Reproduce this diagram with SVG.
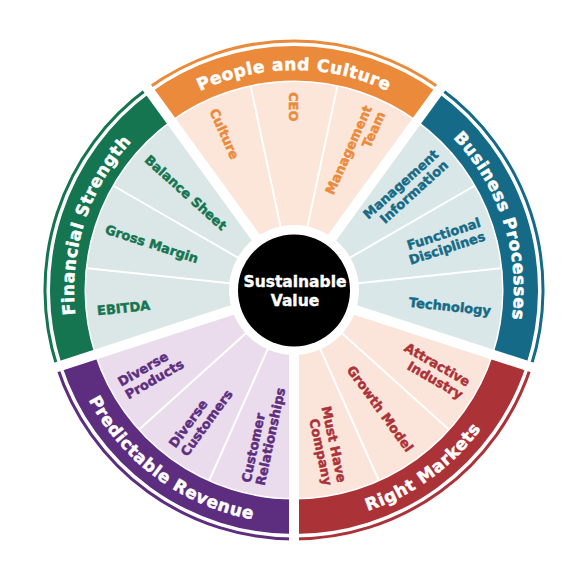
<svg xmlns="http://www.w3.org/2000/svg" xmlns:xlink="http://www.w3.org/1999/xlink" width="588" height="581" viewBox="0 0 588 581">
<style>
.band-label{font-family:"DejaVu Sans","Liberation Sans",sans-serif;font-weight:bold;font-size:17px;fill:#ffffff;stroke:#ffffff;stroke-width:0.5px;letter-spacing:0.6px}
.sub{font-family:"DejaVu Sans","Liberation Sans",sans-serif;font-weight:bold;font-size:13px;stroke-width:0.45px}
.div{stroke:#ffffff;stroke-width:2}
.gap{stroke:#ffffff;stroke-width:10}
.center-label{font-family:"DejaVu Sans","Liberation Sans",sans-serif;font-weight:bold;font-size:15.5px;fill:#ffffff;stroke:#ffffff;stroke-width:0.4px}
</style>
<defs>
  <path id="thin" d="M201.45,-146.36 A249 249 0 0 1 201.45,146.36" fill="none" stroke-width="3"/>
  <path id="band" d="M183.45,-133.28 A226.75 226.75 0 0 1 183.45,133.28" fill="none" stroke-width="34.5"/>
  <path id="light" d="M0,0 L168.28,-122.26 A208 208 0 0 1 168.28,122.26 Z"/>
  <path id="cw" d="M177.98,-129.31 A220 220 0 0 1 177.98,129.31" fill="none"/>
  <path id="ccw" d="M188.50,136.96 A233 233 0 0 0 188.50,-136.96" fill="none"/>
</defs>
<rect width="588" height="581" fill="#ffffff"/>

<g id="people-and-culture" transform="translate(294,290) rotate(270)">
  <use href="#light" fill="#FCE5D9"/>
  <use href="#band" stroke="#EB8A3A"/>
  <use href="#thin" stroke="#EB8A3A"/>
  <line class="div" x1="0" y1="0" x2="203.46" y2="-43.25"/>
  <line class="div" x1="0" y1="0" x2="203.46" y2="43.25"/>
  <text class="band-label"><textPath href="#cw" startOffset="50%" text-anchor="middle">People and Culture</textPath></text>
  <g class="sub" fill="#EB8A3A" stroke="#EB8A3A">
    <text transform="rotate(-24) translate(198,0) rotate(180)" y="4.7">Culture</text>
    <text transform="rotate(0) translate(198,0) rotate(180)" y="4.7">CEO</text>
    <text transform="rotate(24) translate(198,0)" text-anchor="end"><tspan x="0" y="-2.5">Management</tspan><tspan x="0" y="12">Team</tspan></text>
  </g>
</g>

<g id="business-processes" transform="translate(294,290) rotate(342)">
  <use href="#light" fill="#DAE7E8"/>
  <use href="#band" stroke="#156B87"/>
  <use href="#thin" stroke="#156B87"/>
  <line class="div" x1="0" y1="0" x2="203.46" y2="-43.25"/>
  <line class="div" x1="0" y1="0" x2="203.46" y2="43.25"/>
  <text class="band-label"><textPath href="#cw" startOffset="50%" text-anchor="middle">Business Processes</textPath></text>
  <g class="sub" fill="#156B87" stroke="#156B87" text-anchor="end">
    <text transform="rotate(-24) translate(198,0)"><tspan x="0" y="-2.5">Management</tspan><tspan x="0" y="12">Information</tspan></text>
    <text transform="rotate(0) translate(198,0)"><tspan x="0" y="-2.5">Functional</tspan><tspan x="0" y="12">Disciplines</tspan></text>
    <text transform="rotate(24) translate(198,0)" y="4.7">Technology</text>
  </g>
</g>

<g id="right-markets" transform="translate(294,290) rotate(54)">
  <use href="#light" fill="#FBE4DA"/>
  <use href="#band" stroke="#AB3237"/>
  <use href="#thin" stroke="#AB3237"/>
  <line class="div" x1="0" y1="0" x2="203.46" y2="-43.25"/>
  <line class="div" x1="0" y1="0" x2="203.46" y2="43.25"/>
  <text class="band-label"><textPath href="#ccw" startOffset="50%" text-anchor="middle">Right Markets</textPath></text>
  <g class="sub" fill="#AB3237" stroke="#AB3237" text-anchor="end">
    <text transform="rotate(-24) translate(198,0)"><tspan x="0" y="-2.5">Attractive</tspan><tspan x="0" y="12">Industry</tspan></text>
    <text transform="rotate(0) translate(198,0)" y="4.7">Growth Model</text>
    <text transform="rotate(24) translate(198,0)"><tspan x="0" y="-2.5">Must Have</tspan><tspan x="0" y="12">Company</tspan></text>
  </g>
</g>

<g id="predictable-revenue" transform="translate(294,290) rotate(126)">
  <use href="#light" fill="#EADCEC"/>
  <use href="#band" stroke="#5D2E7F"/>
  <use href="#thin" stroke="#5D2E7F"/>
  <line class="div" x1="0" y1="0" x2="203.46" y2="-43.25"/>
  <line class="div" x1="0" y1="0" x2="203.46" y2="43.25"/>
  <text class="band-label"><textPath href="#ccw" startOffset="50%" text-anchor="middle">Predictable Revenue</textPath></text>
  <g class="sub" fill="#5D2E7F" stroke="#5D2E7F" text-anchor="start">
    <text transform="rotate(-24) translate(198,0) rotate(180)"><tspan x="0" y="-2.5">Customer</tspan><tspan x="0" y="12">Relationships</tspan></text>
    <text transform="rotate(0) translate(198,0) rotate(180)"><tspan x="0" y="-2.5">Diverse</tspan><tspan x="0" y="12">Customers</tspan></text>
    <text transform="rotate(24) translate(198,0) rotate(180)"><tspan x="0" y="-2.5">Diverse</tspan><tspan x="0" y="12">Products</tspan></text>
  </g>
</g>

<g id="financial-strength" transform="translate(294,290) rotate(198)">
  <use href="#light" fill="#DAE7E6"/>
  <use href="#band" stroke="#157551"/>
  <use href="#thin" stroke="#157551"/>
  <line class="div" x1="0" y1="0" x2="203.46" y2="-43.25"/>
  <line class="div" x1="0" y1="0" x2="203.46" y2="43.25"/>
  <text class="band-label"><textPath href="#cw" startOffset="50%" text-anchor="middle">Financial Strength</textPath></text>
  <g class="sub" fill="#157551" stroke="#157551" text-anchor="start">
    <text transform="rotate(-24) translate(198,0) rotate(180)" y="4.7">EBITDA</text>
    <text transform="rotate(0) translate(198,0) rotate(180)" y="4.7">Gross Margin</text>
    <text transform="rotate(24) translate(198,0) rotate(180)" y="4.7">Balance Sheet</text>
  </g>
</g>

<g id="sector-gaps" transform="translate(294,290)">
  <line class="gap" x1="0" y1="0" x2="258" y2="0" transform="rotate(18)"/>
  <line class="gap" x1="0" y1="0" x2="258" y2="0" transform="rotate(90)"/>
  <line class="gap" x1="0" y1="0" x2="258" y2="0" transform="rotate(162)"/>
  <line class="gap" x1="0" y1="0" x2="258" y2="0" transform="rotate(234)"/>
  <line class="gap" x1="0" y1="0" x2="258" y2="0" transform="rotate(306)"/>
</g>

<g id="sustainable-value">
  <circle cx="294" cy="290" r="65" fill="#ffffff"/>
  <circle cx="294" cy="290.5" r="56" fill="#000000"/>
  <text class="center-label" x="295" y="287" text-anchor="middle">Sustainable</text>
  <text class="center-label" x="295" y="306" text-anchor="middle">Value</text>
</g>
</svg>
